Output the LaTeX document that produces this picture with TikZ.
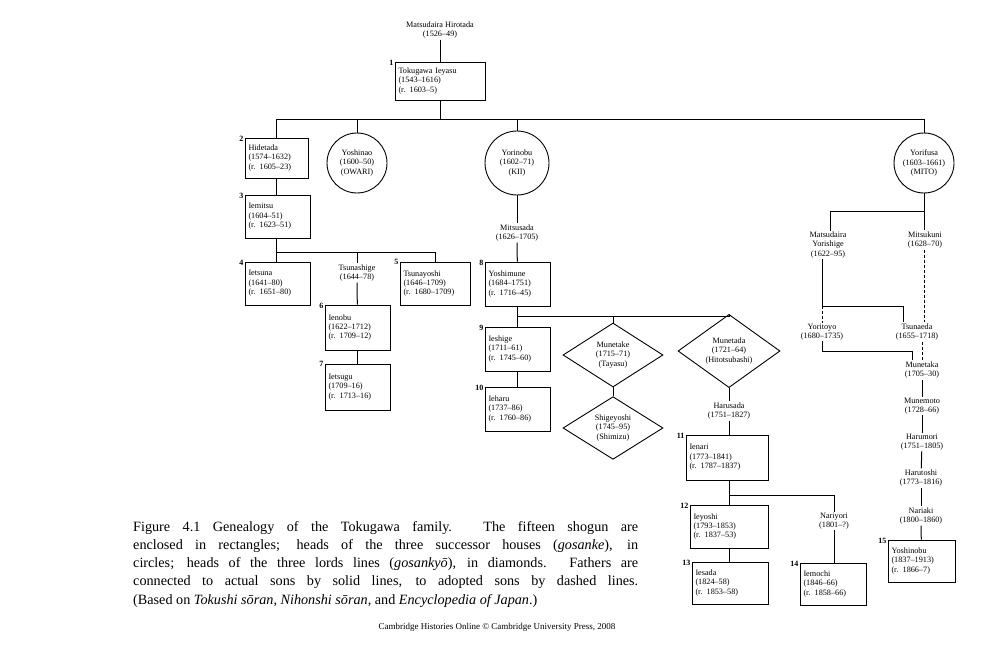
\documentclass[tikz,border=0pt]{standalone}
\usepackage{fontspec}
\setmainfont{Liberation Serif}
\usetikzlibrary{shapes.geometric,calc}
\begin{document}
\begin{tikzpicture}[x=1pt,y=-1pt,
  every node/.style={font=\fontsize{8.2}{9.4}\selectfont, inner sep=1pt},
  bx/.style={draw, line width=0.9pt, align=left, inner sep=0pt},
  crc/.style={draw, circle, line width=0.9pt, align=center, inner sep=0pt},
  dia/.style={draw, diamond, line width=0.9pt, align=center, inner sep=0pt},
  nm/.style={align=center},
  num/.style={font=\fontsize{8}{8}\selectfont\bfseries, inner sep=0pt, anchor=north east},
  ln/.style={line width=1pt},
  dl/.style={line width=1pt, dash pattern=on 3pt off 2pt}]
\useasboundingbox[fill=white] (0,0) rectangle (1000,655);
\newcommand{\bx}[7]{\node[bx, minimum width=#4, minimum height=#5, text width=#4-7] (#1) at (#2,#3) {#6};
  \node[num] at ($(#1.north west)+(-1,-2)$) {#7};}
% people
\node[nm] (hiro) at (440,30) {Matsudaira Hirotada\\(1526--49)};
\bx{ieyasu}{440}{81}{90}{38}{Tokugawa Ieyasu\\(1543--1616)\\(r. 1603--5)}{1}
\bx{hidetada}{276.5}{158}{63}{40}{Hidetada\\(1574--1632)\\(r. 1605--23)}{2}
\node[crc, minimum size=60] (yoshinao) at (357,163) {Yoshinao\\(1600--50)\\(OWARI)};
\node[crc, minimum size=64] (yorinobu) at (517,163) {Yorinobu\\(1602--71)\\(KII)};
\node[crc, minimum size=60] (yorifusa) at (924,163) {Yorifusa\\(1603--1661)\\(MITO)};
\bx{iemitsu}{277.5}{216.5}{65}{43}{Iemitsu\\(1604--51)\\(r. 1623--51)}{3}
\bx{ietsuna}{277.5}{283.5}{65}{43}{Ietsuna\\(1641--80)\\(r. 1651--80)}{4}
\node[nm] (tsunashige) at (357,273) {Tsunashige\\(1644--78)};
\bx{tsunayoshi}{435}{283.5}{70}{43}{Tsunayoshi\\(1646--1709)\\(r. 1680--1709)}{5}
\bx{ienobu}{357.5}{327.5}{65}{45}{Ienobu\\(1622--1712)\\(r. 1709--12)}{6}
\bx{ietsugu}{357.5}{387}{65}{46}{Ietsugu\\(1709--16)\\(r. 1713--16)}{7}
\node[nm] (mitsusada) at (517,233) {Mitsusada\\(1626--1705)};
\bx{yoshimune}{517.5}{284}{65}{44}{Yoshimune\\(1684--1751)\\(r. 1716--45)}{8}
\bx{ieshige}{517.5}{349}{65}{44}{Ieshige\\(1711--61)\\(r. 1745--60)}{9}
\bx{ieharu}{517.5}{409}{65}{44}{Ieharu\\(1737--86)\\(r. 1760--86)}{10}
\node[dia, minimum width=100, minimum height=64] (munetake) at (613,355) {Munetake\\(1715--71)\\(Tayasu)};
\node[dia, minimum width=100, minimum height=54] (shigeyoshi) at (613,428) {Shigeyoshi\\(1745--95)\\(Shimizu)};
\node[dia, minimum width=102, minimum height=52] (munetada) at (729,351) {Munetada\\(1721--64)\\(Hitotsubashi)};
\node[nm] (harusada) at (729,411) {Harusada\\(1751--1827)};
\bx{ienari}{727}{457.5}{82}{45}{Ienari\\(1773--1841)\\(r. 1787--1837)}{11}
\bx{ieyoshi}{729}{526.5}{78}{43}{Ieyoshi\\(1793--1853)\\(r. 1837--53)}{12}
\bx{iesada}{730}{583}{76}{42}{Iesada\\(1824--58)\\(r. 1853--58)}{13}
\node[nm] (nariyori) at (834,521) {Nariyori\\(1801--?)};
\bx{iemochi}{833}{584}{66}{42}{Iemochi\\(1846--66)\\(r. 1858--66)}{14}
\node[nm] (yorishige) at (828,245) {Matsudaira\\Yorishige\\(1622--95)};
\node[nm] (mitsukuni) at (925,240) {Mitsukuni\\(1628--70)};
\node[nm] (yoritoyo) at (822,332) {Yoritoyo\\(1680--1735)};
\node[nm] (tsunaeda) at (917,332) {Tsunaeda\\(1655--1718)};
\node[nm] (munetaka) at (922,370) {Munetaka\\(1705--30)};
\node[nm] (munemoto) at (922,406) {Munemoto\\(1728--66)};
\node[nm] (harumori) at (922,442) {Harumori\\(1751--1805)};
\node[nm] (harutoshi) at (921,478) {Harutoshi\\(1773--1816)};
\node[nm] (nariaki) at (921,516) {Nariaki\\(1800--1860)};
\bx{yoshinobu}{921.5}{561}{67}{42}{Yoshinobu\\(1837--1913)\\(r. 1866--7)}{15}
% connectors
\draw[ln] (hiro) -- (ieyasu);
\draw[ln] (ieyasu.south) -- (440,120);
\draw[ln] (hidetada.north -| 276,0) |- (924,120) -- (yorifusa.north);
\draw[ln] (357,120) -- (yoshinao.north);
\draw[ln] (517,120) -- (yorinobu.north);
\draw[ln] (hidetada) -- (hidetada |- iemitsu.north);
\draw[ln] (iemitsu.south -| 276,0) -- (ietsuna.north -| 276,0);
\draw[ln] (276,252) -| (tsunayoshi.north);
\draw[ln] (357,252) -- (tsunashige.north);
\draw[ln] (tsunashige) -- (ienobu);
\draw[ln] (ienobu) -- (ietsugu);
\draw[ln] (yorinobu) -- (mitsusada);
\draw[ln] (mitsusada) -- (yoshimune);
\draw[ln] (yoshimune) -- (ieshige);
\draw[ln] (ieshige) -- (ieharu);
\draw[ln] (517,316) -| (munetada.north);
\draw[ln] (613,316) -- (munetake.north);
\draw[ln] (munetake) -- (shigeyoshi);
\draw[ln] (munetada) -- (harusada);
\draw[ln] (harusada) -- (harusada |- ienari.north);
\draw[ln] (ienari.south -| 729,0) -- (ieyoshi);
\draw[ln] (729,495) -| (nariyori.north);
\draw[ln] (ieyoshi) -- (ieyoshi |- iesada.north);
\draw[ln] (nariyori) -- (nariyori |- iemochi.north);
\draw[ln] (yorifusa) -- (924,211) -| (yorishige.north -| 830,0);
\draw[ln] (924,211) -- (mitsukuni.north -| 924,0);
\draw[ln] (yorishige.south -| 822,0) -- (822,306) -| (tsunaeda.north -| 903,0);
\draw[dl] (822,306) -- (yoritoyo.north -| 822,0);
\draw[dl] (mitsukuni.south -| 924,0) -- (tsunaeda.north -| 924,0);
\draw[ln] (yoritoyo.south -| 822,0) |- (912,351) -- (munetaka.north -| 912,0);
\draw[dl] (tsunaeda.south -| 922,0) -- (munetaka.north -| 922,0);
\draw[ln] (munetaka) -- (munemoto);
\draw[ln] (munemoto) -- (harumori);
\draw[ln] (harumori) -- (harutoshi);
\draw[ln] (harutoshi) -- (nariaki);
\draw[ln] (nariaki) -- (yoshinobu);
% caption
\node[anchor=north west, align=left, inner sep=0pt,
  font=\fontsize{14.2}{18.2}\selectfont] (cap) at (133,521)
 {\makebox[505pt][s]{Figure 4.1 Genealogy of the Tokugawa family. The fifteen shogun are}\\
  \makebox[505pt][s]{enclosed in rectangles; heads of the three successor houses (\textit{gosanke}), in}\\
  \makebox[505pt][s]{circles; heads of the three lords lines (\textit{gosanky\=o}), in diamonds. Fathers are}\\
  \makebox[505pt][s]{connected to actual sons by solid lines, to adopted sons by dashed lines.}\\
  (Based on \textit{Tokushi s\=oran}, \textit{Nihonshi s\=oran}, and \textit{Encyclopedia of Japan}.)};
\node[font=\fontsize{9}{10}\selectfont] (foot) at (497,627) {Cambridge Histories Online © Cambridge University Press, 2008};
\end{tikzpicture}
\end{document}
